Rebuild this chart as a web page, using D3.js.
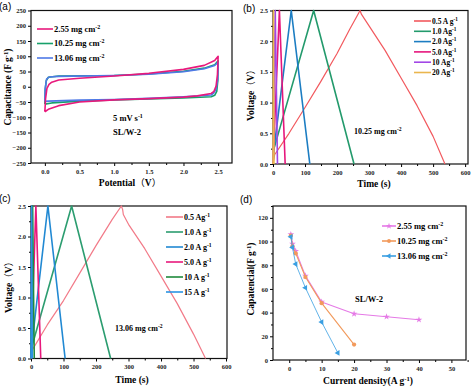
<!DOCTYPE html>
<meta charset="utf-8">
<body style="margin:0;background:#fff">
<script src="https://d3js.org/d3.v7.min.js"></script>
<div id="chart"></div>
<script>

// ---- data ----
// (a) CV curves, [potential V, capacitance F/g], forward then reverse sweep
const cv255 = [[0,-82],[0.01,-40],[0.03,-5],[0.06,8],[0.1,15],[0.2,22],[0.5,28],[1.0,35],[1.5,44],[2.0,57],[2.3,70],[2.45,86],[2.5,100],
               [2.49,40],[2.47,2],[2.44,-15],[2.4,-22],[2.2,-30],[2.0,-34],[1.5,-39],[1.0,-43],[0.5,-50],[0.2,-62],[0.05,-74],[0,-82]];
const cv1025 = [[0,-57],[0.005,-10],[0.02,20],[0.05,31],[0.2,35],[1.0,37],[1.5,42],[2.0,51],[2.3,61],[2.45,72],[2.5,85],
                [2.495,20],[2.48,-15],[2.45,-28],[2.4,-33],[2.0,-37],[1.5,-40],[1.0,-43],[0.5,-47],[0.1,-53],[0,-57]];
const cv1306 = [[0,-48],[0.005,-5],[0.025,25],[0.06,32],[0.2,34],[1.0,37],[1.5,41],[2.0,49],[2.3,59],[2.45,70],[2.5,80],
                [2.495,25],[2.47,-8],[2.43,-22],[2.4,-27],[2.0,-33],[1.5,-38],[1.0,-42],[0.5,-44],[0.05,-47],[0,-48]];
const cvLabels = ["2.55 mg cm", "10.25 mg cm", "13.06 mg  cm"];

// (b) GCD at 10.25 mg cm-2, [time s, voltage V]
const b05 = [[0,0],[5,0.15],[50,0.5],[100,0.92],[150,1.35],[200,1.8],[240,2.2],[272,2.5],[276,2.44],[300,2.25],[350,1.85],[400,1.4],[450,0.95],[500,0.45],[537,0]];
const b10 = [[0,0],[3,0.25],[127,2.5],[253,0]];
const b20 = [[0,0],[2,0.2],[57,2.5],[115,0]];
const b50 = [[0,0],[20,2.5],[38,0]];
const b100 = [[0,0],[7,2.5],[14,0]];
const b200 = [[0,0],[1.5,2.5],[3,0]];
const bLabels = ["0.5 A g", "1.0 Ag", "2.0 Ag", "5.0 Ag", "10 Ag", "20 Ag"];

// (c) GCD at 13.06 mg cm-2
const c05 = [[0,0],[5,0.15],[50,0.55],[100,0.95],[150,1.4],[200,1.85],[250,2.28],[278,2.5],[282,2.44],[284,2.36],[300,2.2],[350,1.8],[400,1.35],[450,0.9],[500,0.4],[537,0]];
const c10 = [[0,0],[3,0.2],[125,2.5],[245,0]];
const c20 = [[0,0],[2,0.2],[52,2.5],[105,0]];
const c50 = [[0,0],[15,2.5],[30,0]];
const c100 = [[0,0],[5,2.5],[10,0]];
const c150 = [[0,0],[2,2.5],[4,0]];
const cLabels = ["0.5 Ag", "1.0 A g", "2.0 A g", "5.0 A g", "10 A g", "15 A g"];

// (d) rate capability
const dCurrent255 = [0.5, 1, 2, 5, 10, 20, 30, 40];
const dCap255 = [106, 98, 92, 71, 49, 39, 36.5, 34];
const dCurrent1025 = [0.5, 1, 2, 5, 10, 20];
const dCap1025 = [105, 96, 90, 70, 48, 13];
const dCurrent1306 = [0.5, 1, 2, 5, 10, 15];
const dCap1306 = [104, 95, 81, 61, 32, 6];

// ---- drawing ----
const svg = d3.select("#chart").append("svg")
  .attr("width", 474).attr("height", 387)
  .style("font-family", "'Liberation Serif', 'Times New Roman', serif");

const CJK = "'Noto Sans CJK SC', sans-serif";

// text with superscript, parts = [[text, sup?, family?], ...]
function rich(g, x, y, parts, size, anchor) {
  const t = g.append("text").attr("x", x).attr("y", y)
    .attr("font-size", size).attr("font-weight", "bold")
    .attr("text-anchor", anchor || "start");
  parts.forEach(function(p) {
    const s = t.append("tspan").text(p[0]);
    if (p[1]) s.attr("font-size", size * 0.7).attr("baseline-shift", "super");
    if (p[2]) s.attr("font-family", p[2]).attr("font-weight", "normal");
  });
  return t;
}

function panel(o) {
  const x = d3.scaleLinear().domain(o.xd).range([o.x0, o.x1]);
  const y = d3.scaleLinear().domain(o.yd).range([o.y1, o.y0]);
  const g = svg.append("g");

  // minor ticks
  g.append("g").attr("transform", `translate(0,${o.y1})`)
    .call(d3.axisBottom(x).tickValues(o.xMinor).tickSize(2).tickFormat(""))
    .call(a => a.select(".domain").remove());
  g.append("g").attr("transform", `translate(${o.x0},0)`)
    .call(d3.axisLeft(y).tickValues(o.yMinor).tickSize(2).tickFormat(""))
    .call(a => a.select(".domain").remove());

  const xa = g.append("g").attr("transform", `translate(0,${o.y1})`)
    .call(d3.axisBottom(x).tickValues(o.xTicks).tickSize(3).tickPadding(3).tickFormat(o.xFmt));
  const ya = g.append("g").attr("transform", `translate(${o.x0},0)`)
    .call(d3.axisLeft(y).tickValues(o.yTicks).tickSize(3).tickPadding(2).tickFormat(o.yFmt));
  [xa, ya].forEach(function(a) {
    a.select(".domain").remove();
    a.selectAll("text").attr("font-size", 6.5).attr("font-weight", "bold")
      .attr("font-family", "'Liberation Serif', serif").attr("fill", "#222");
  });

  g.append("rect").attr("x", o.x0).attr("y", o.y0)
    .attr("width", o.x1 - o.x0).attr("height", o.y1 - o.y0)
    .attr("fill", "none").attr("stroke", "#111").attr("stroke-width", 1.2);

  svg.append("text").attr("x", o.lx).attr("y", o.ly).text(o.tag)
    .attr("font-family", "'Liberation Sans', Arial, sans-serif").attr("font-size", 10);
  return {g: g, x: x, y: y};
}

function drawLine(p, pts, color, w) {
  p.g.append("path").datum(pts)
    .attr("d", d3.line().x(d => p.x(d[0])).y(d => p.y(d[1])))
    .attr("fill", "none").attr("stroke", color).attr("stroke-width", w)
    .attr("stroke-linejoin", "round");
}

function legend(p, x, y, dy, labels, colors, sups, size, len) {
  labels.forEach(function(l, i) {
    const yy = y + i * dy;
    p.g.append("line").attr("x1", x).attr("x2", x + len).attr("y1", yy).attr("y2", yy)
      .attr("stroke", colors[i]).attr("stroke-width", 1.6);
    rich(p.g, x + len + 1, yy + size * 0.35, [[l], [sups[i], true]], size);
  });
}

// (a)
const pa = panel({x0: 31, x1: 232, y0: 10.5, y1: 163, xd: [-0.2, 2.7], yd: [-250, 250],
  xTicks: [0, 0.5, 1, 1.5, 2, 2.5], xMinor: [0.25, 0.75, 1.25, 1.75, 2.25],
  yTicks: d3.range(-250, 251, 50), yMinor: [],
  xFmt: d3.format(".1f"), yFmt: d3.format("d"), tag: "(a)", lx: -1, ly: 10});
const cvColors = ["#e8197c", "#17a06a", "#4f79e6"];
drawLine(pa, cv1025, cvColors[1], 1.6);
drawLine(pa, cv1306, cvColors[2], 1.6);
drawLine(pa, cv255, cvColors[0], 1.6);
legend(pa, 37, 29, 14.5, cvLabels, cvColors, ["-2", "-2", "-2"], 8.5, 16);
rich(pa.g, 113, 121, [["5 mV s"], ["-1", true]], 8.5);
rich(pa.g, 113, 135, [["SL/W-2"]], 8.5);
rich(svg, 0, 0, [["Capacitance (F g"], ["-1", true], [")"]], 9.5, "middle")
  .attr("transform", "translate(11,87) rotate(-90)");
rich(svg, 130, 186, [["Potential"], ["（", false, CJK], ["V"], ["）", false, CJK]], 9.5, "middle");

// (b)
const pb = panel({x0: 273, x1: 468, y0: 10.5, y1: 164, xd: [0, 609], yd: [0, 2.5],
  xTicks: d3.range(0, 601, 100), xMinor: d3.range(50, 601, 100),
  yTicks: [0, 0.5, 1, 1.5, 2, 2.5], yMinor: [0.25, 0.75, 1.25, 1.75, 2.25],
  xFmt: d3.format("d"), yFmt: d3.format(".1f"), tag: "(b)", lx: 243, ly: 12});
const bColors = ["#f2595e", "#239a6c", "#1c7dc2", "#e6167c", "#a247e6", "#eab64e"];
[b05, b10, b20, b50, b100, b200].forEach((d, i) => drawLine(pb, d, bColors[i], i === 0 ? 1.2 : 1.6));
legend(pb, 414, 21, 10.3, bLabels, bColors, ["-1", "-1", "-1", "-1", "-1", "-1"], 7.5, 17);
rich(pb.g, 354, 134, [["10.25 mg cm"], ["-2", true]], 8);
rich(svg, 0, 0, [["Voltage"], ["（", false, CJK], ["V"], ["）", false, CJK]], 9.5, "middle")
  .attr("transform", "translate(254,93) rotate(-90)");
rich(svg, 374, 187, [["Time (s)"]], 9.5, "middle");

// (c)
const pc = panel({x0: 31, x1: 227, y0: 206, y1: 358.5, xd: [0, 603], yd: [0, 2.5],
  xTicks: d3.range(0, 601, 100), xMinor: d3.range(50, 601, 100),
  yTicks: [0, 0.5, 1, 1.5, 2, 2.5], yMinor: [0.25, 0.75, 1.25, 1.75, 2.25],
  xFmt: d3.format("d"), yFmt: d3.format(".1f"), tag: "(c)", lx: -1, ly: 202});
const cColors = ["#f27a88", "#2c9d70", "#2189d3", "#e8187c", "#1f8a3c", "#2a93e2"];
[c05, c10, c20, c50, c100, c150].forEach((d, i) => drawLine(pc, d, cColors[i], i === 0 ? 1.2 : 1.6));
legend(pc, 166, 217, 15, cLabels, cColors, ["-1", "-1", "-1", "-1", "-1", "-1"], 8, 17);
rich(pc.g, 115, 331, [["13.06 mg cm"], ["-2", true]], 8);
rich(svg, 0, 0, [["Voltage"], ["（", false, CJK], ["V"], ["）", false, CJK]], 9.5, "middle")
  .attr("transform", "translate(12,285) rotate(-90)");
rich(svg, 132, 383, [["Time (s)"]], 9.5, "middle");

// (d)
const pd = panel({x0: 273, x1: 466, y0: 206, y1: 360, xd: [-5, 54.5], yd: [0, 130],
  xTicks: d3.range(0, 51, 10), xMinor: d3.range(5, 56, 10),
  yTicks: d3.range(0, 121, 20), yMinor: d3.range(10, 131, 20),
  xFmt: d3.format("d"), yFmt: d3.format("d"), tag: "(d)", lx: 240, ly: 203});
const dColors = ["#e57ae6", "#f29a5c", "#3a9fe2"];
const dSets = [[dCurrent255, dCap255], [dCurrent1025, dCap1025], [dCurrent1306, dCap1306]];
const dSymbols = [d3.symbolStar, d3.symbolCircle, d3.symbolTriangle];
dSets.forEach(function(s, i) {
  const pts = s[0].map((c, j) => [c, s[1][j]]);
  drawLine(pd, pts, dColors[i], i === 2 ? 0.8 : 1.1);
  pd.g.selectAll(null).data(pts).join("path")
    .attr("transform", d => `translate(${pd.x(d[0])},${pd.y(d[1])})` + (i === 2 ? " rotate(-90)" : ""))
    .attr("d", d3.symbol().type(dSymbols[i]).size(14))
    .attr("fill", dColors[i]);
});
legend(pd, 382, 226, 15, ["2.55 mg cm", "10.25 mg cm", "13.06 mg  cm"], dColors, ["-2", "-2", "-2"], 8.5, 14);
dSets.forEach(function(s, i) {
  pd.g.append("path").attr("transform", `translate(389,${226 + i * 15})` + (i === 2 ? " rotate(-90)" : ""))
    .attr("d", d3.symbol().type(dSymbols[i]).size(12)).attr("fill", dColors[i]);
});
rich(pd.g, 355, 302, [["SL/W-2"]], 8.5);
rich(svg, 0, 0, [["Capatencial(F g"], ["-1", true], [")"]], 9.5, "middle")
  .attr("transform", "translate(254,279) rotate(-90)");
rich(svg, 368, 384, [["Current density(A g"], ["-1", true], [")"]], 9.5, "middle");

</script>
</body>
